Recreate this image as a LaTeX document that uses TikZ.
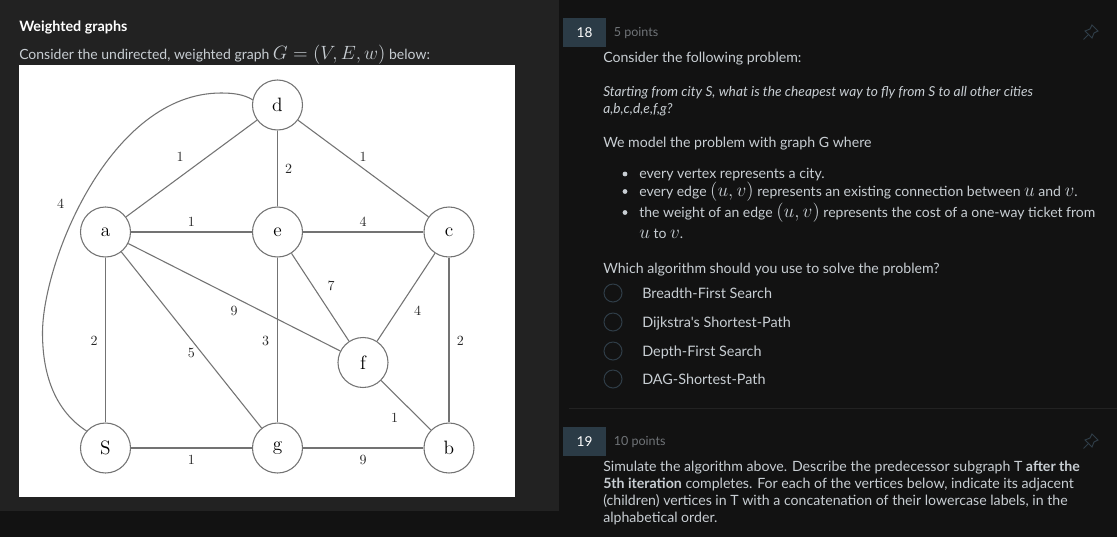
\documentclass[tikz,border=0pt]{standalone}
\usepackage[no-math]{fontspec}
\newfontfamily\lato{Lato}
\definecolor{pagebg}{HTML}{121212}
\definecolor{panelbg}{HTML}{222222}
\definecolor{uitext}{HTML}{C8CED3}
\definecolor{dimtext}{HTML}{707478}
\definecolor{badge}{HTML}{2B3B46}
\definecolor{ring}{HTML}{2F3D47}
\definecolor{edgegray}{HTML}{737373}
\newcommand{\mth}[1]{{\fontsize{13.6}{14}\selectfont$#1$}}
\newcommand{\mthbig}[1]{{\fontsize{15}{16}\selectfont$#1$}}
\tikzset{
  x=0.75pt,y=-0.75pt,
  vertex/.style={circle,draw=edgegray,line width=0.8pt,fill=white,minimum size=37.5pt,inner sep=0pt,text=black,font=\fontsize{14.5}{16}\selectfont},
  wedge/.style={draw=edgegray,line width=0.8pt},
  weight/.style={inner sep=0pt,text=black!85,font=\fontsize{10.5}{12}\selectfont},
  ui/.style={anchor=base west,inner sep=0pt,text=uitext,font=\lato\fontsize{10.6}{12}\selectfont},
  uimath/.style={ui,font=\lato\fontsize{10.5}{12}\selectfont},
  opt/.style={ui,font=\lato\fontsize{10.8}{12}\selectfont},
  ital/.style={ui,font=\lato\itshape\fontsize{10.3}{12}\selectfont},
  head/.style={ui,text=white,font=\lato\bfseries\fontsize{10.75}{12}\selectfont},
  pts/.style={ui,text=dimtext,font=\lato\fontsize{9.4}{12}\selectfont},
  badgenum/.style={rectangle,fill=badge,minimum width=32pt,minimum height=22pt,inner sep=0pt,text=white,font=\lato\fontsize{10.2}{12}\selectfont},
  radio/.style={circle,draw=ring,line width=0.75pt,minimum size=13.5pt,inner sep=0pt},
  bulletdot/.style={circle,fill=uitext,minimum size=3.6pt,inner sep=0pt},
}
\newcommand{\pinicon}[1]{%
  \begin{scope}[shift={#1},draw=ring,line width=0.7pt]
    \draw (-7.5,7.5) -- (-2,2);
    \draw (-6,-1) -- (1,6) -- (3,1) -- (7,-1) -- (1,-7) -- (-1,-3) -- cycle;
  \end{scope}}
\begin{document}
\begin{tikzpicture}
\useasboundingbox (0,0) rectangle (1117,537);
\fill[pagebg] (0,0) rectangle (1117,537);
\fill[panelbg] (0,0) rectangle (559,511);
\fill[white] (19,65) rectangle (515,497);

\node[head] (title) at (19,31) {Weighted graphs};
\node[uimath] (intro) at (19,59) {Consider the undirected, weighted graph \mthbig{G=(V,E,w)} below:};

% graph
\node[vertex] (d) at (277.5,105) {d};
\node[vertex] (a) at (105.5,232) {a};
\node[vertex] (e) at (277.5,232) {e};
\node[vertex] (c) at (449,232) {c};
\node[vertex] (f) at (363,362.5) {f};
\node[vertex] (S) at (105.5,448) {S};
\node[vertex] (g) at (277.5,448) {g};
\node[vertex] (b) at (449,448) {b};
\coordinate (w1) at (42.5,333);
\coordinate (w2) at (221,93);
\draw[wedge] (S) -- (g);
\draw[wedge] (g) -- (b);
\draw[wedge] (a) -- (S);
\draw[wedge] (a) -- (e);
\draw[wedge] (e) -- (c);
\draw[wedge] (d) -- (a);
\draw[wedge] (d) -- (e);
\draw[wedge] (d) -- (c);
\draw[wedge] (a) -- (g);
\draw[wedge] (a) -- (f);
\draw[wedge] (e) -- (g);
\draw[wedge] (e) -- (f);
\draw[wedge] (c) -- (f);
\draw[wedge] (c) -- (b);
\draw[wedge] (f) -- (b);
\draw[wedge] (S.138) .. controls (57,412) and (42.5,378) .. (w1)
  .. controls (42.5,262) and (110,93) .. (w2)
  .. controls (232,93) and (243,94) .. (d.168);

\node[weight] (l1) at (60.7,204) {4};
\node[weight] (l2) at (180,157) {1};
\node[weight] (l3) at (288.6,169) {2};
\node[weight] (l4) at (363,157) {1};
\node[weight] (l5) at (191.4,222) {1};
\node[weight] (l6) at (363,222) {4};
\node[weight] (l7) at (331,285.5) {7};
\node[weight] (l8) at (234,311) {9};
\node[weight] (l9) at (417.5,311) {4};
\node[weight] (l10) at (94,341) {2};
\node[weight] (l11) at (191.4,353) {5};
\node[weight] (l12) at (265.7,341) {3};
\node[weight] (l13) at (460.3,341) {2};
\node[weight] (l14) at (394.6,418) {1};
\node[weight] (l15) at (191.4,460) {1};
\node[weight] (l16) at (363,460) {9};

% question 18
\node[badgenum] (q18) at (584.5,32.5) {18};
\node[pts] (p18) at (613.5,36.5) {5 points};
\pinicon{(1091,32)}
\node[ui] (t1) at (603,62) {Consider the following problem:};
\node[ital] (t2) at (603,96) {Starting from city S, what is the cheapest way to fly from S to all other cities};
\node[ital] (t3) at (603,113) {a,b,c,d,e,f,g?};
\node[ui] (t4) at (603,147) {We model the problem with graph G where};
\node[bulletdot] (b1) at (625,174) {};
\node[ui] (t5) at (639,178) {every vertex represents a city.};
\node[bulletdot] (b2) at (625,191.5) {};
\node[uimath] (t6) at (639,196) {every edge \mth{(u,v)} represents an existing connection between \mth{u} and \mth{v}.};
\node[bulletdot] (b3) at (625,212.5) {};
\node[uimath] (t7) at (639,217) {the weight of an edge \mth{(u,v)} represents the cost of a one-way ticket from};
\node[uimath] (t8) at (639,238) {\mth{u} to \mth{v}.};
\node[ui] (t9) at (603,273) {Which algorithm should you use to solve the problem?};
\node[radio] (r1) at (613,293) {};
\node[opt] (o1) at (642,298) {Breadth-First Search};
\node[radio] (r2) at (613,322) {};
\node[opt] (o2) at (642,327) {Dijkstra's Shortest-Path};
\node[radio] (r3) at (613,351) {};
\node[opt] (o3) at (642,356) {Depth-First Search};
\node[radio] (r4) at (613,379) {};
\node[opt] (o4) at (642,384) {DAG-Shortest-Path};
\coordinate (divL) at (569,408);
\coordinate (divR) at (1117,408);
\draw[panelbg,line width=0.75pt] (divL) -- (divR);

% question 19
\node[badgenum] (q19) at (584.5,441.5) {19};
\node[pts] (p19) at (613.5,445.5) {10 points};
\pinicon{(1091,441)}
\node[ui] (s1) at (603,471) {Simulate the algorithm above. Describe the predecessor subgraph T \textbf{after the}};
\node[ui] (s2) at (603,488) {\textbf{5th iteration} completes. For each of the vertices below, indicate its adjacent};
\node[ui] (s3) at (603,505) {(children) vertices in T with a concatenation of their lowercase labels, in the};
\node[ui] (s4) at (603,522) {alphabetical order.};
\end{tikzpicture}
\end{document}
